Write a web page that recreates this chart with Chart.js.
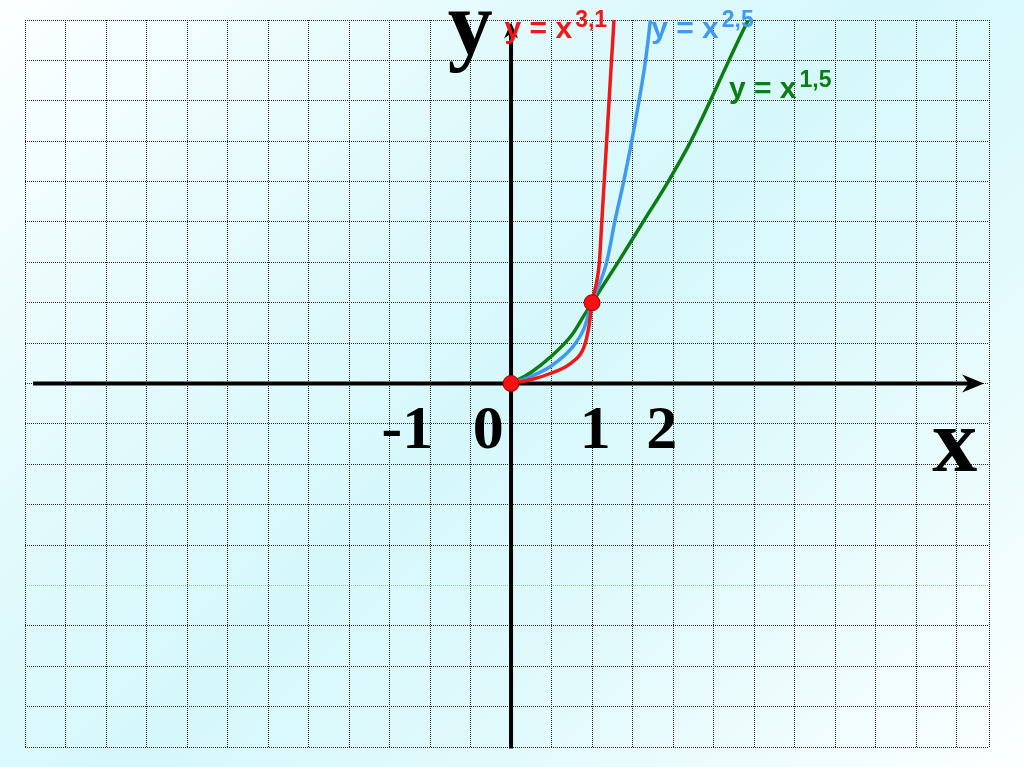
<!DOCTYPE html>
<html lang="ru">
<head>
<meta charset="UTF-8">
<title>Степенные функции</title>
<script src="https://cdn.jsdelivr.net/npm/chart.js"></script>
<style>
    html, body { margin: 0; padding: 0; }
    body {
        width: 1024px;
        height: 767px;
        overflow: hidden;
        background: linear-gradient(135deg, #fcffff 0%, #e2fafc 30%, #d6f8fb 50%, #e2fafc 70%, #fcffff 100%);
    }
    #chart { display: block; }
</style>
</head>
<body>
<canvas id="chart" width="1024" height="767"></canvas>
<script>
    // values, in graph units
    const redX   = [0, 0.25, 0.5, 0.75, 0.9, 0.96, 1, 1.09, 1.12, 1.15, 1.18, 1.21, 1.24, 1.27, 1.28];
    const redY   = [0, 0.05, 0.13, 0.26, 0.45, 0.7, 1, 1.5, 2, 2.5, 3, 3.5, 4, 4.5, 4.74];
    const blueX  = [0, 0.25, 0.5, 0.75, 0.9, 1, 1.18, 1.28, 1.39, 1.49, 1.58, 1.66, 1.72, 1.74];
    const blueY  = [0, 0.09, 0.22, 0.44, 0.68, 1, 1.5, 2, 2.5, 3, 3.5, 4, 4.5, 4.72];
    const greenX = [0, 0.25, 0.5, 0.75, 0.9, 1, 1.32, 1.63, 1.94, 2.22, 2.46, 2.69, 2.93, 3.07];
    const greenY = [0, 0.14, 0.34, 0.6, 0.84, 1, 1.5, 2, 2.5, 3, 3.5, 4, 4.5, 4.74];
    const dotX   = [0, 1];
    const dotY   = [0, 1];

    const curveNames  = ['3,1', '2,5', '1,5'];
    const tickLabels  = ['-1', '0', '1', '2'];
    const tickLabelX  = [-1.28, -0.28, 1.04, 1.86];

    const RED = '#f01818';
    const BLUE = '#3f9af2';
    const GREEN = '#0b7d12';

    const pts = (xs, ys) => xs.map((x, i) => ({ x: x, y: ys[i] }));

    function arrow(ctx, x, y, dx, dy, len, half) {
        // tip at x,y pointing along dx,dy
        const nx = -dy, ny = dx;
        ctx.beginPath();
        ctx.moveTo(x, y);
        ctx.lineTo(x - dx * len + nx * half, y - dy * len + ny * half);
        ctx.lineTo(x - dx * len * 0.7, y - dy * len * 0.7);
        ctx.lineTo(x - dx * len - nx * half, y - dy * len - ny * half);
        ctx.closePath();
        ctx.fill();
    }

    // axes with arrows, under the curves
    const axesPlugin = {
        id: 'axes',
        beforeDatasetsDraw(chart) {
            const ctx = chart.ctx;
            const xs = chart.scales.x, ys = chart.scales.y;
            const x0 = xs.getPixelForValue(0), y0 = ys.getPixelForValue(0);
            ctx.save();
            ctx.strokeStyle = '#000';
            ctx.fillStyle = '#000';
            ctx.lineWidth = 4;
            ctx.beginPath();
            ctx.moveTo(xs.getPixelForValue(-5.9), y0);
            ctx.lineTo(xs.getPixelForValue(5.7), y0);
            ctx.stroke();
            arrow(ctx, xs.getPixelForValue(5.84), y0, 1, 0, 22, 9);
            ctx.beginPath();
            ctx.moveTo(x0, ys.getPixelForValue(-4.52));
            ctx.lineTo(x0, ys.getPixelForValue(4.35));
            ctx.stroke();
            arrow(ctx, x0, ys.getPixelForValue(4.47), 0, -1, 16, 7);
            ctx.restore();
        }
    };

    // text on top
    const textPlugin = {
        id: 'texts',
        afterDatasetsDraw(chart) {
            const ctx = chart.ctx;
            const xs = chart.scales.x, ys = chart.scales.y;
            ctx.save();
            ctx.textBaseline = 'alphabetic';

            ctx.fillStyle = '#000';
            ctx.font = 'bold 90px "Liberation Serif", "Times New Roman", serif';
            ctx.textAlign = 'left';
            ctx.fillText('y', xs.getPixelForValue(-0.78), ys.getPixelForValue(4.08));
            ctx.fillText('x', xs.getPixelForValue(5.2), ys.getPixelForValue(-1.08));

            ctx.font = 'bold 62px "Liberation Serif", "Times New Roman", serif';
            ctx.textAlign = 'center';
            tickLabels.forEach((t, i) => {
                ctx.fillText(t, xs.getPixelForValue(tickLabelX[i]), ys.getPixelForValue(-0.8));
            });

            const labels = [
                { x: -0.08, y: 4.28, c: RED },
                { x: 1.73, y: 4.28, c: BLUE },
                { x: 2.69, y: 3.54, c: GREEN }
            ];
            ctx.textAlign = 'left';
            labels.forEach((l, i) => {
                const px = xs.getPixelForValue(l.x), py = ys.getPixelForValue(l.y);
                ctx.fillStyle = l.c;
                ctx.font = 'bold 30px "Liberation Sans", Arial, sans-serif';
                const base = 'y = x';
                ctx.fillText(base, px, py);
                const w = ctx.measureText(base).width;
                ctx.font = 'bold 23px "Liberation Sans", Arial, sans-serif';
                ctx.fillText(curveNames[i], px + w + 3, py - 11);
            });
            ctx.restore();
        }
    };

    const lineStyle = {
        showLine: true,
        pointRadius: 0,
        borderWidth: 3.5,
        cubicInterpolationMode: 'monotone',
        fill: false
    };

    new Chart(document.getElementById('chart'), {
        type: 'scatter',
        data: {
            datasets: [
                {
                    label: 'точки',
                    data: pts(dotX, dotY),
                    pointRadius: 8,
                    pointBackgroundColor: '#ff1010',
                    pointBorderColor: '#9a0000',
                    pointBorderWidth: 1,
                    showLine: false
                },
                Object.assign({ label: 'y = x^3,1', data: pts(redX, redY), borderColor: RED }, lineStyle),
                Object.assign({ label: 'y = x^2,5', data: pts(blueX, blueY), borderColor: BLUE }, lineStyle),
                Object.assign({ label: 'y = x^1,5', data: pts(greenX, greenY), borderColor: GREEN }, lineStyle)
            ]
        },
        options: {
            responsive: false,
            animation: false,
            layout: { padding: { left: 25, right: 35, top: 20, bottom: 20 } },
            plugins: {
                legend: { display: false },
                tooltip: { enabled: false }
            },
            scales: {
                x: {
                    type: 'linear',
                    min: -6,
                    max: 5.9,
                    ticks: { display: false, stepSize: 0.5 },
                    border: { display: false, dash: [1, 1] },
                    grid: {
                        color: '#2a2a2a',
                        lineWidth: 1,
                        drawTicks: false
                    }
                },
                y: {
                    type: 'linear',
                    min: -4.5,
                    max: 4.5,
                    ticks: { display: false, stepSize: 0.5 },
                    border: { display: false, dash: [1, 1] },
                    grid: {
                        color: ctx => ctx.tick && ctx.tick.value === -2.5 ? '#8fc98f' : '#2a2a2a',
                        lineWidth: 1,
                        drawTicks: false
                    }
                }
            }
        },
        plugins: [axesPlugin, textPlugin]
    });
</script>
</body>
</html>
